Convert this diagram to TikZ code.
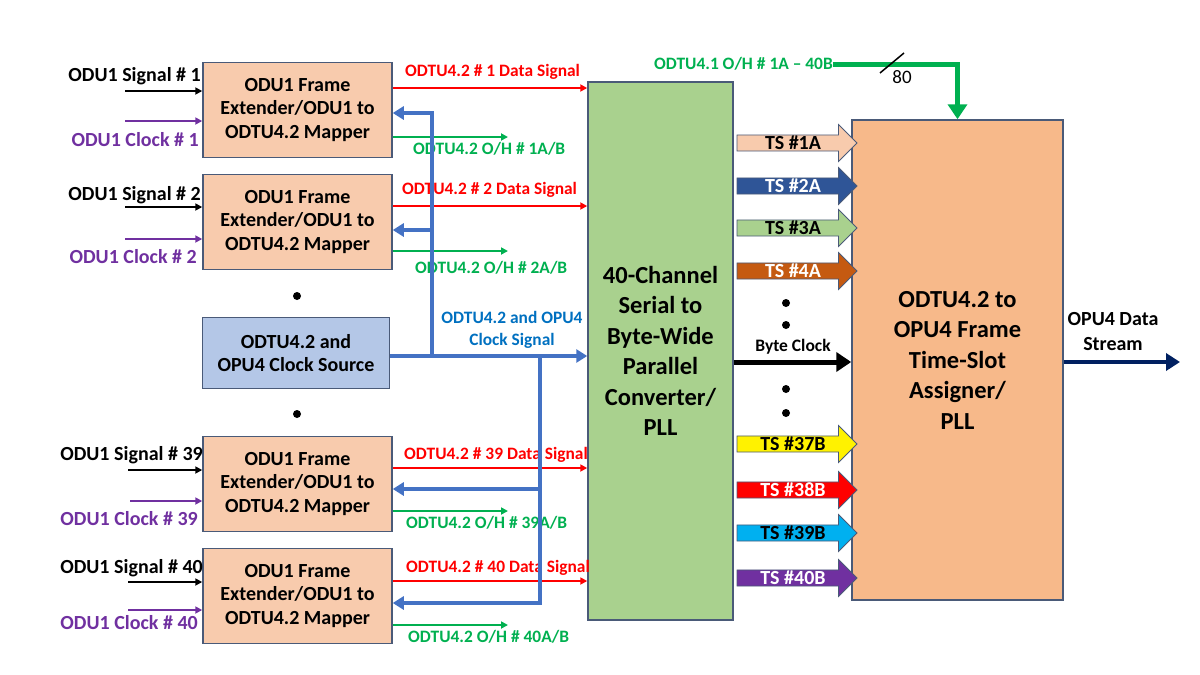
\documentclass[tikz,border=0pt]{standalone}
\usepackage{fontspec}
\setmainfont{Carlito}
\definecolor{boxline}{HTML}{4A5A78}
\definecolor{mapfill}{HTML}{F8CBAD}
\definecolor{srcfill}{HTML}{B4C7E7}
\definecolor{convfill}{HTML}{A9D18E}
\definecolor{assignfill}{HTML}{F7B98A}
\definecolor{ohgreen}{HTML}{00B050}
\definecolor{clkpurple}{HTML}{7030A0}
\definecolor{busblue}{HTML}{4472C4}
\definecolor{labblue}{HTML}{0070C0}
\definecolor{streamnavy}{HTML}{002060}
\definecolor{tsblue}{HTML}{2F5597}
\definecolor{tsorange}{HTML}{C55A11}
\definecolor{tscyan}{HTML}{00B0F0}
\usetikzlibrary{shapes, arrows.meta, positioning, calc}

\begin{document}
\begin{tikzpicture}[x=1pt, y=-1pt,
  mbox/.style={draw=boxline, fill=mapfill, line width=1.5pt, minimum width=189pt, minimum height=95pt, align=center, inner sep=0pt, font=\fontsize{20}{23.5}\selectfont\bfseries},
  bigbox/.style={draw=boxline, line width=1.5pt, align=center, inner sep=0pt, font=\fontsize{24.5}{30.5}\selectfont\bfseries},
  inlab/.style={inner sep=0pt, anchor=east, font=\fontsize{20}{22}\selectfont\bfseries},
  outlab/.style={inner sep=0pt, anchor=west, font=\fontsize{17.4}{20}\selectfont\bfseries},
  sigline/.style={line width=2pt, -{Triangle[length=7pt,width=7pt]}},
  clkline/.style={sigline, draw=clkpurple},
  dataline/.style={line width=2pt, draw=red, -{Triangle[length=7pt,width=7pt]}},
  ohline/.style={line width=2.5pt, draw=ohgreen, -{Triangle[length=7pt,width=7pt]}},
  busline/.style={line width=4pt, draw=busblue, -{Triangle[length=11pt,width=13pt]}},
  tsarrow/.style={single arrow, draw=boxline, line width=0.8pt, minimum width=37pt, minimum height=120pt, single arrow head extend=9.5pt, single arrow head indent=0pt, inner sep=0pt, font=\fontsize{20}{20}\selectfont\bfseries},
  dot/.style={circle, fill=black, inner sep=0pt, minimum size=8pt}
]
  \useasboundingbox (0,0) rectangle (1200,675);

  \node[mbox] (map1) at (297.5,110) {ODU1 Frame\\Extender/ODU1 to\\ODTU4.2 Mapper};
  \node[mbox] (map2) at (297.5,222) {ODU1 Frame\\Extender/ODU1 to\\ODTU4.2 Mapper};
  \node[mbox, fill=srcfill, minimum width=187pt, minimum height=71pt] (src) at (296,353) {ODTU4.2 and\\OPU4 Clock Source};
  \node[mbox] (map39) at (297.5,484) {ODU1 Frame\\Extender/ODU1 to\\ODTU4.2 Mapper};
  \node[mbox] (map40) at (297.5,596) {ODU1 Frame\\Extender/ODU1 to\\ODTU4.2 Mapper};
  \node[dot] (dotA) at (297,296) {};
  \node[dot] (dotB) at (297,414) {};

  \node[bigbox, fill=convfill, minimum width=145pt, minimum height=538pt] (conv) at (660.5,351) {40-Channel\\Serial to\\Byte-Wide\\Parallel\\Converter/\\PLL};
  \node[bigbox, fill=assignfill, minimum width=211pt, minimum height=480pt] (assign) at (957.5,360) {ODTU4.2 to\\OPU4 Frame\\Time-Slot\\Assigner/\\PLL};

  \node[inlab] (sig1lab) at (201,76) {ODU1 Signal \# 1};
  \node[inlab, text=clkpurple] (clk1lab) at (199,140) {ODU1 Clock \# 1};
  \node[inlab] (sig2lab) at (201,195) {ODU1 Signal \# 2};
  \node[inlab, text=clkpurple] (clk2lab) at (197,257) {ODU1 Clock \# 2};
  \node[inlab] (sig39lab) at (203,455) {ODU1 Signal \# 39};
  \node[inlab, text=clkpurple] (clk39lab) at (198,519) {ODU1 Clock \# 39};
  \node[inlab] (sig40lab) at (203,568) {ODU1 Signal \# 40};
  \node[inlab, text=clkpurple] (clk40lab) at (198,623) {ODU1 Clock \# 40};

  \coordinate (sig1) at (125,91);
  \coordinate (clk1) at (125,121);
  \coordinate (sig2) at (125,207);
  \coordinate (clk2) at (125,239);
  \coordinate (sig39) at (128,470);
  \coordinate (clk39) at (130,501);
  \coordinate (sig40) at (128,582);
  \coordinate (clk40) at (128,610);
  \draw[sigline] (sig1) -- (sig1 -| map1.west);
  \draw[clkline] (clk1) -- (clk1 -| map1.west);
  \draw[sigline] (sig2) -- (sig2 -| map2.west);
  \draw[clkline] (clk2) -- (clk2 -| map2.west);
  \draw[sigline] (sig39) -- (sig39 -| map39.west);
  \draw[clkline] (clk39) -- (clk39 -| map39.west);
  \draw[sigline] (sig40) -- (sig40 -| map40.west);
  \draw[clkline] (clk40) -- (clk40 -| map40.west);

  \draw[dataline] (map1.east |- 0,88) -- (conv.west |- 0,88);
  \draw[dataline] (map2.east |- 0,206) -- (conv.west |- 0,206);
  \draw[dataline] (map39.east |- 0,468) -- (conv.west |- 0,468);
  \draw[dataline] (map40.east |- 0,581) -- (conv.west |- 0,581);
  \node[outlab, text=red] (data1lab) at (405,72) {ODTU4.2 \# 1 Data Signal};
  \node[outlab, text=red] (data2lab) at (402,190) {ODTU4.2 \# 2 Data Signal};
  \node[outlab, text=red] (data39lab) at (404,455) {ODTU4.2 \# 39 Data Signal};
  \node[outlab, text=red] (data40lab) at (406,568) {ODTU4.2 \# 40 Data Signal};

  \coordinate (oh1) at (508,137);
  \coordinate (oh2) at (508,251);
  \coordinate (oh39) at (508,511);
  \coordinate (oh40) at (508,625);
  \draw[ohline] (map1.east |- oh1) -- (oh1);
  \draw[ohline] (map2.east |- oh2) -- (oh2);
  \draw[ohline] (map39.east |- oh39) -- (oh39);
  \draw[ohline] (map40.east |- oh40) -- (oh40);
  \node[outlab, text=ohgreen] (oh1lab) at (413,149) {ODTU4.2 O/H \# 1A/B};
  \node[outlab, text=ohgreen] (oh2lab) at (415,268) {ODTU4.2 O/H \# 2A/B};
  \node[outlab, text=ohgreen] (oh39lab) at (406,523) {ODTU4.2 O/H \# 39A/B};
  \node[outlab, text=ohgreen] (oh40lab) at (408,637) {ODTU4.2 O/H \# 40A/B};

  \coordinate (tapA) at (432,356);
  \coordinate (tapB) at (540,356);
  \draw[busline] (src.east |- tapA) -- (conv.west |- tapA);
  \draw[busline] (tapA) |- (map1.east |- 0,113);
  \draw[busline] (tapA |- 0,230) -- (map2.east |- 0,230);
  \draw[busline] (tapB) |- (map40.east |- 0,603);
  \draw[busline] (tapB |- 0,489) -- (map39.east |- 0,489);
  \node[inner sep=0pt, align=center, text=labblue, font=\fontsize{17.4}{22}\selectfont\bfseries] (buslab) at (512,330) {ODTU4.2 and OPU4\\Clock Signal};

  \node[outlab, anchor=east, text=ohgreen] (ohtop) at (833,64) {ODTU4.1 O/H \# 1A -- 40B};
  \draw[line width=5pt, draw=ohgreen, -{Triangle[length=15pt,width=19pt]}] (ohtop.east) -| (assign.north);
  \draw[line width=1.5pt] (880,73) -- (904,53);
  \node[inner sep=0pt, font=\fontsize{19}{20}\selectfont] (bits) at (902,77) {80};

  \node[tsarrow, fill=mapfill] (ts1a) at (793,143) {TS \#1A};
  \node[tsarrow, fill=tsblue, text=white] (ts2a) at (793,186) {TS \#2A};
  \node[tsarrow, fill=convfill] (ts3a) at (793,228) {TS \#3A};
  \node[tsarrow, fill=tsorange, text=white] (ts4a) at (793,271) {TS \#4A};
  \node[tsarrow, fill=yellow] (ts37b) at (793,444) {TS \#37B};
  \node[tsarrow, fill=red, text=white] (ts38b) at (793,490) {TS \#38B};
  \node[tsarrow, fill=tscyan] (ts39b) at (793,533) {TS \#39B};
  \node[tsarrow, fill=clkpurple, text=white] (ts40b) at (793,578) {TS \#40B};
  \node[dot] (dotC) at (786,303) {};
  \node[dot] (dotD) at (786,325) {};
  \node[dot] (dotE) at (786,389) {};
  \node[dot] (dotF) at (786,413) {};

  \node[inner sep=0pt, font=\fontsize{17.5}{20}\selectfont\bfseries] (bclab) at (793,347) {Byte Clock};
  \draw[line width=5pt, -{Triangle[length=15pt,width=19pt]}] (conv.east |- 0,362) -- (assign.west |- 0,362);

  \coordinate (out) at (1180,362);
  \draw[line width=4pt, draw=streamnavy, -{Triangle[length=14pt,width=17pt]}] (assign.east |- out) -- (out);
  \node[inner sep=0pt, align=center, font=\fontsize{20}{25}\selectfont\bfseries] (outlab) at (1113,332) {OPU4 Data\\Stream};
\end{tikzpicture}
\end{document}
